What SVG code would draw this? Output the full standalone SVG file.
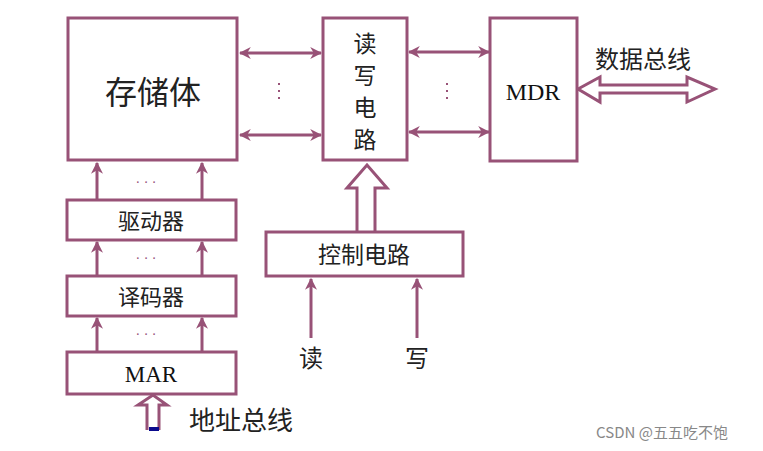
<svg xmlns="http://www.w3.org/2000/svg" width="763" height="451" viewBox="0 0 763 451">
<style>
.b{fill:#fff;stroke:#985277;stroke-width:3}
.l{stroke:#985277;stroke-width:3;fill:none}
.h{fill:#fff;stroke:#985277;stroke-width:3;stroke-linejoin:miter}
.t{font-family:"Noto Sans CJK SC",sans-serif;fill:#222;text-anchor:middle}
.s{font-family:"Liberation Serif",serif;fill:#111;text-anchor:middle}
.d{fill:#985277;font-family:"Liberation Serif",serif;text-anchor:middle;font-size:14px}
.v{stroke:#985277;stroke-width:2;stroke-dasharray:2 5;fill:none}
</style>
<defs>
<marker id="a" viewBox="0 0 10 10" refX="9" refY="5" markerWidth="4" markerHeight="4" orient="auto-start-reverse"><path d="M0,0 L10,5 L0,10 L3,5 Z" fill="#985277"/></marker>
</defs>
<g id="connectors">
<line class="l" x1="240" y1="53" x2="321" y2="53" marker-start="url(#a)" marker-end="url(#a)"/>
<line class="l" x1="240" y1="135" x2="321" y2="135" marker-start="url(#a)" marker-end="url(#a)"/>
<line class="l" x1="409" y1="52" x2="489" y2="52" marker-start="url(#a)" marker-end="url(#a)"/>
<line class="l" x1="409" y1="132" x2="489" y2="132" marker-start="url(#a)" marker-end="url(#a)"/>
<line class="v" x1="279" y1="83" x2="279" y2="102"/>
<line class="v" x1="447" y1="83" x2="447" y2="102"/>
<line class="l" x1="97" y1="200" x2="97" y2="163" marker-end="url(#a)"/>
<line class="l" x1="202" y1="200" x2="202" y2="163" marker-end="url(#a)"/>
<line class="l" x1="97" y1="276" x2="97" y2="242" marker-end="url(#a)"/>
<line class="l" x1="202" y1="276" x2="202" y2="242" marker-end="url(#a)"/>
<line class="l" x1="97" y1="352" x2="97" y2="318" marker-end="url(#a)"/>
<line class="l" x1="202" y1="352" x2="202" y2="318" marker-end="url(#a)"/>
<text class="d" x="146" y="187">· · ·</text>
<text class="d" x="146" y="263">· · ·</text>
<text class="d" x="146" y="339">· · ·</text>
<line class="l" x1="311" y1="338" x2="311" y2="279" marker-end="url(#a)"/>
<line class="l" x1="417" y1="338" x2="417" y2="279" marker-end="url(#a)"/>
<path class="h" d="M357,231 V188 H347 L367,165 L387,188 H375 V231"/>
<path class="h" d="M578,89 L600,77 V85 H687 V77 L715,89 L687,102 V93 H600 V102 Z"/>
<path class="h" d="M147,430 V405 H138 L153,395 L167,405 H159 V430"/>
<rect x="149" y="427" width="10" height="4" fill="#0a0a8c"/>
</g>
<g id="storage"><rect class="b" x="68" y="18" width="169" height="142"/><text class="t" x="153" y="104" font-size="32">存储体</text></g>
<g id="rw"><rect class="b" x="323" y="18" width="84" height="142"/>
<text class="t" x="365" y="52" font-size="23">读</text><text class="t" x="365" y="84" font-size="23">写</text><text class="t" x="365" y="116" font-size="23">电</text><text class="t" x="365" y="148" font-size="23">路</text></g>
<g id="mdr"><rect class="b" x="490" y="18" width="87" height="143"/><text class="s" x="533" y="100" font-size="24">MDR</text></g>
<g id="databus"><text class="t" x="643" y="68" font-size="24">数据总线</text></g>
<g id="driver"><rect class="b" x="67" y="200" width="169" height="40"/><text class="t" x="151" y="229" font-size="22">驱动器</text></g>
<g id="decoder"><rect class="b" x="67" y="276" width="169" height="40"/><text class="t" x="151" y="305" font-size="22">译码器</text></g>
<g id="mar"><rect class="b" x="67" y="352" width="169" height="42"/><text class="s" x="151" y="382" font-size="23">MAR</text></g>
<g id="addr"><text class="t" x="241" y="430" font-size="26">地址总线</text></g>
<g id="ctrl"><rect class="b" x="266" y="232" width="197" height="44"/><text class="t" x="364" y="263" font-size="23">控制电路</text></g>
<g id="rd"><text class="t" x="311" y="367" font-size="24">读</text></g>
<g id="wr"><text class="t" x="417" y="367" font-size="24">写</text></g>
<text x="662" y="438" font-family="Noto Sans CJK SC,sans-serif" font-size="15" fill="#888" text-anchor="middle">CSDN @五五吃不饱</text>
</svg>
